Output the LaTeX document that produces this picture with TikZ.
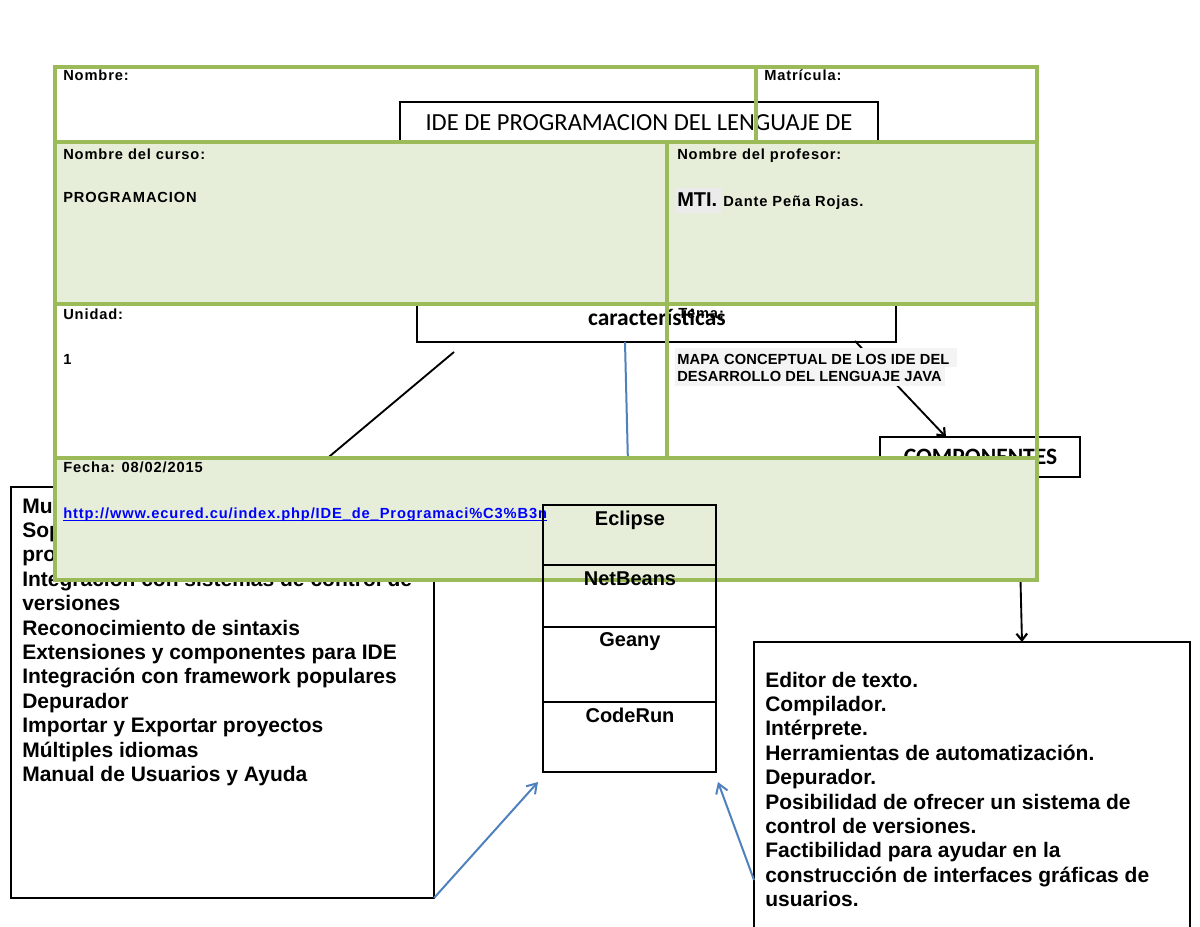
\documentclass[tikz,border=0pt]{standalone}
\usepackage{fontspec}
\setmainfont{Liberation Sans}
\newfontfamily\calfont{Carlito}
\newfontfamily\hdrfont[LetterSpace=6]{Liberation Sans}
\newfontfamily\mapfont[LetterSpace=1]{Liberation Sans}
\usetikzlibrary{arrows.meta}
\definecolor{tgreen}{HTML}{9BBB59}
\definecolor{tfill}{HTML}{E6EED9}
\definecolor{lblue}{HTML}{4F81BD}
\definecolor{linkblue}{HTML}{0000FF}
\definecolor{hlgray}{HTML}{F4F4F4}
\definecolor{mtigray}{HTML}{EBEBEB}
\begin{document}
\begin{tikzpicture}[x=0.75pt,y=-0.75pt,
 box/.style={draw=black,line width=1.5pt,inner sep=0,outer sep=0,anchor=north west},
 gline/.style={draw=tgreen,line width=2.3pt},
 hdr/.style={anchor=base west,inner sep=0,font=\hdrfont\bfseries\fontsize{11}{13}\selectfont},
 maptxt/.style={anchor=base west,inner sep=0,font=\mapfont\bfseries\fontsize{11}{13}\selectfont},
 listtxt/.style={anchor=base west,inner sep=0,font=\bfseries\fontsize{15.75}{18}\selectfont},
 idetxt/.style={anchor=base,inner sep=0,font=\bfseries\fontsize{15}{18}\selectfont},
 caltxt/.style={anchor=base,inner sep=0,font=\calfont\fontsize{18.4}{22}\selectfont},
 calbold/.style={anchor=base,inner sep=0,font=\calfont\bfseries\fontsize{17.6}{21}\selectfont},
 conn/.style={draw=black,line width=1.4pt},
 bconn/.style={draw=lblue,line width=1.5pt},
 bhead/.style={-{Straight Barb[length=7pt,width=9pt]}},
 khead/.style={-{Straight Barb[length=5pt,width=8pt,line width=1.6pt]}},
]
\fill[white] (0,0) rectangle (1200,927);
\useasboundingbox (0,0) rectangle (1200,927);

% concept map boxes (under the table)
\node[box,minimum width=478*0.75pt,minimum height=48*0.75pt] (title) at (400,102) {};
\node[caltxt] (titletxt) at (639,131) {IDE DE PROGRAMACION DEL LENGUAJE DE};

\node[box,minimum width=479*0.75pt,minimum height=43*0.75pt] (carac) at (417,299) {};
\node[calbold] (caractxt) at (657,325.7) {características};

\node[box,minimum width=200*0.75pt,minimum height=40*0.75pt] (comp) at (880,437) {};
\node[calbold] (comptxt) at (980.5,464.7) {COMPONENTES};

\node[box,minimum width=423*0.75pt,minimum height=411*0.75pt] (left) at (11,487) {};
\foreach \t [count=\i] in {Mu,Sop,pro,Integración con sistemas de control de,versiones,Reconocimiento de sintaxis,Extensiones y componentes para IDE,Integración con framework populares,Depurador,Importar y Exportar proyectos,Múltiples idiomas,Manual de Usuarios y Ayuda}
  \node[listtxt] (L\i) at (22,{513+24.4*(\i-1)}) {\t};

\node[box,minimum width=436*0.75pt,minimum height=303*0.75pt] (right) at (754,642) {};
\foreach \t [count=\i] in {Editor de texto.,Compilador.,Intérprete.,Herramientas de automatización.,Depurador.,Posibilidad de ofrecer un sistema de,control de versiones.,Factibilidad para ayudar en la,construcción de interfaces gráficas de,usuarios.}
  \node[listtxt] (R\i) at (765,{687+24.4*(\i-1)}) {\t};

% connectors
\coordinate (c1s) at (454,352);
\coordinate (c1e) at (293,487);
\draw[conn] (c1s) -- (c1e);
\coordinate (c2s) at (625,342);
\coordinate (c2e) at (629,505);
\draw[bconn] (c2s) -- (c2e);
\coordinate (c3s) at (855,341);
\coordinate (c3e) at (946,437);
\draw[conn,khead] (c3s) -- (c3e);
\coordinate (c4s) at (1018,477);
\coordinate (c4e) at (1022,642);
\draw[conn,khead] (c4s) -- (c4e);

% header table
\fill[tfill] (55,142) rectangle (1037,304);
\fill[tfill] (55,458) rectangle (1037,580);
\draw[gline] (55,142) -- (1037,142);
\draw[gline] (55,304) -- (1037,304);
\draw[gline] (55,458) -- (1037,458);
\draw[gline] (756,67) -- (756,142);
\draw[gline] (667,142) -- (667,458);
\draw[gline] (55,67) rectangle (1037,580);

\node[hdr] (nombre) at (63,81) {Nombre:};
\node[hdr] (matricula) at (764,81) {Matrícula:};
\node[hdr] (curso) at (63,160) {Nombre del curso:};
\node[hdr] (cursov) at (63,203) {PROGRAMACION};
\node[hdr] (prof) at (677,160) {Nombre del profesor:};
\fill[mtigray] (675,188) rectangle (722,213);
\node[anchor=base west,inner sep=0,font=\bfseries\fontsize{15}{18}\selectfont] (mti) at (677,207) {MTI.};
\node[hdr] (dante) at (723,207) {Dante Peña Rojas.};
\node[hdr] (unidad) at (63,320) {Unidad:};
\node[hdr] (unidadv) at (63,364) {1};
\node[hdr] (tema) at (678,319) {Tema:};
\fill[hlgray] (675,348) rectangle (957,367);
\fill[hlgray] (675,367) rectangle (945,386);
\node[maptxt] (mapa1) at (677,364) {MAPA CONCEPTUAL DE LOS IDE DEL};
\node[maptxt] (mapa2) at (677,381.7) {DESARROLLO DEL LENGUAJE JAVA};
\node[hdr] (fecha) at (63,472) {Fecha: 08/02/2015};
\node[hdr,text=linkblue] (link) at (63,518) {http://www.ecured.cu/index.php/IDE\_de\_Programaci\%C3\%B3n};
\draw[linkblue,line width=0.9pt] ([yshift=-1.6pt]link.base west) -- ([yshift=-1.6pt]link.base east);

% IDE stack (on top)
\node[box,minimum width=173*0.75pt,minimum height=60*0.75pt] (eclipse) at (543,505) {};
\node[box,minimum width=173*0.75pt,minimum height=62*0.75pt] (netbeans) at (543,565) {};
\node[box,minimum width=173*0.75pt,minimum height=75*0.75pt] (geany) at (543,627) {};
\node[box,minimum width=173*0.75pt,minimum height=70*0.75pt] (coderun) at (543,702) {};
\node[idetxt] (eclipsetxt) at (630,525) {Eclipse};
\node[idetxt] (netbeanstxt) at (630,585) {NetBeans};
\node[idetxt] (geanytxt) at (630,646.7) {Geany};
\node[idetxt] (coderuntxt) at (630,722) {CodeRun};

% blue arrows
\coordinate (b1e) at (538,782);
\draw[bconn,bhead] (left.south east) -- (b1e);
\coordinate (b2s) at (754,880);
\coordinate (b2e) at (718,782);
\draw[bconn,bhead] (b2s) -- (b2e);
\end{tikzpicture}
\end{document}
